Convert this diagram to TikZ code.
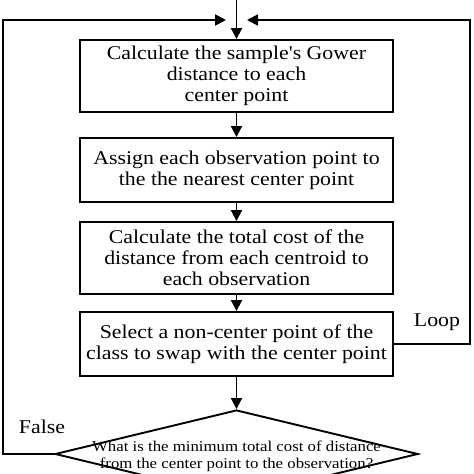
\documentclass[tikz,border=0pt]{standalone}
\usepackage{fontspec}
\setmainfont{Liberation Serif}
\newfontfamily\widefont[FakeStretch=1.12]{Liberation Serif}
\usetikzlibrary{arrows.meta,shapes.geometric}
\begin{document}
\begin{tikzpicture}[x=1pt,y=-1pt,
  box/.style={draw,line width=1.9pt,minimum width=313pt,inner sep=0pt,align=center,
    font=\widefont\fontsize{19.5}{21}\selectfont},
  arr/.style={line width=1.9pt,-{Triangle[length=11pt,width=11pt]}},
  lbl/.style={font=\widefont\fontsize{19.5}{21}\selectfont,inner sep=0pt},
  dtext/.style={font=\widefont\fontsize{15}{17}\selectfont,align=center,inner sep=0pt}]
\useasboundingbox (0,0) rectangle (474,474);
\clip (0,0) rectangle (474,474);
\fill[white] (0,0) rectangle (474,474);
\node[box,minimum height=72pt] (b1) at (236.5,76) {Calculate the sample's Gower\\distance to each\\center point};
\node[box,minimum height=64pt] (b2) at (236.5,170) {Assign each observation point to\\the the nearest center point};
\node[box,minimum height=72pt] (b3) at (236.5,258) {Calculate the total cost of the\\distance from each centroid to\\each observation};
\node[box,minimum height=64pt] (b4) at (236.5,344) {Select a non-center point of the\\class to swap with the center point};
\node[draw,diamond,line width=1.9pt,minimum width=363pt,minimum height=88pt,inner sep=0pt] (d) at (236.5,454) {};
\node[dtext] (dt) at (236.5,456) {What is the minimum total cost of distance\\from the center point to the observation?};
\node[lbl,anchor=base] (loop) at (437,326) {Loop};
\node[lbl,anchor=base] (false) at (42,433) {False};
\coordinate (top) at (236.5,0);
\coordinate (lc) at (3,454);
\coordinate (ltip) at (226,20);
\coordinate (rc) at (470,344);
\coordinate (rtip) at (247,20);
\draw[arr] (top) -- (b1.north);
\draw[arr] (b1) -- (b2);
\draw[arr] (b2) -- (b3);
\draw[arr] (b3) -- (b4);
\draw[arr] (b4) -- (d.north);
\draw[arr] (d.west) -- (lc) |- (ltip);
\draw[arr] (b4.east) -- (rc) |- (rtip);
\end{tikzpicture}
\end{document}
